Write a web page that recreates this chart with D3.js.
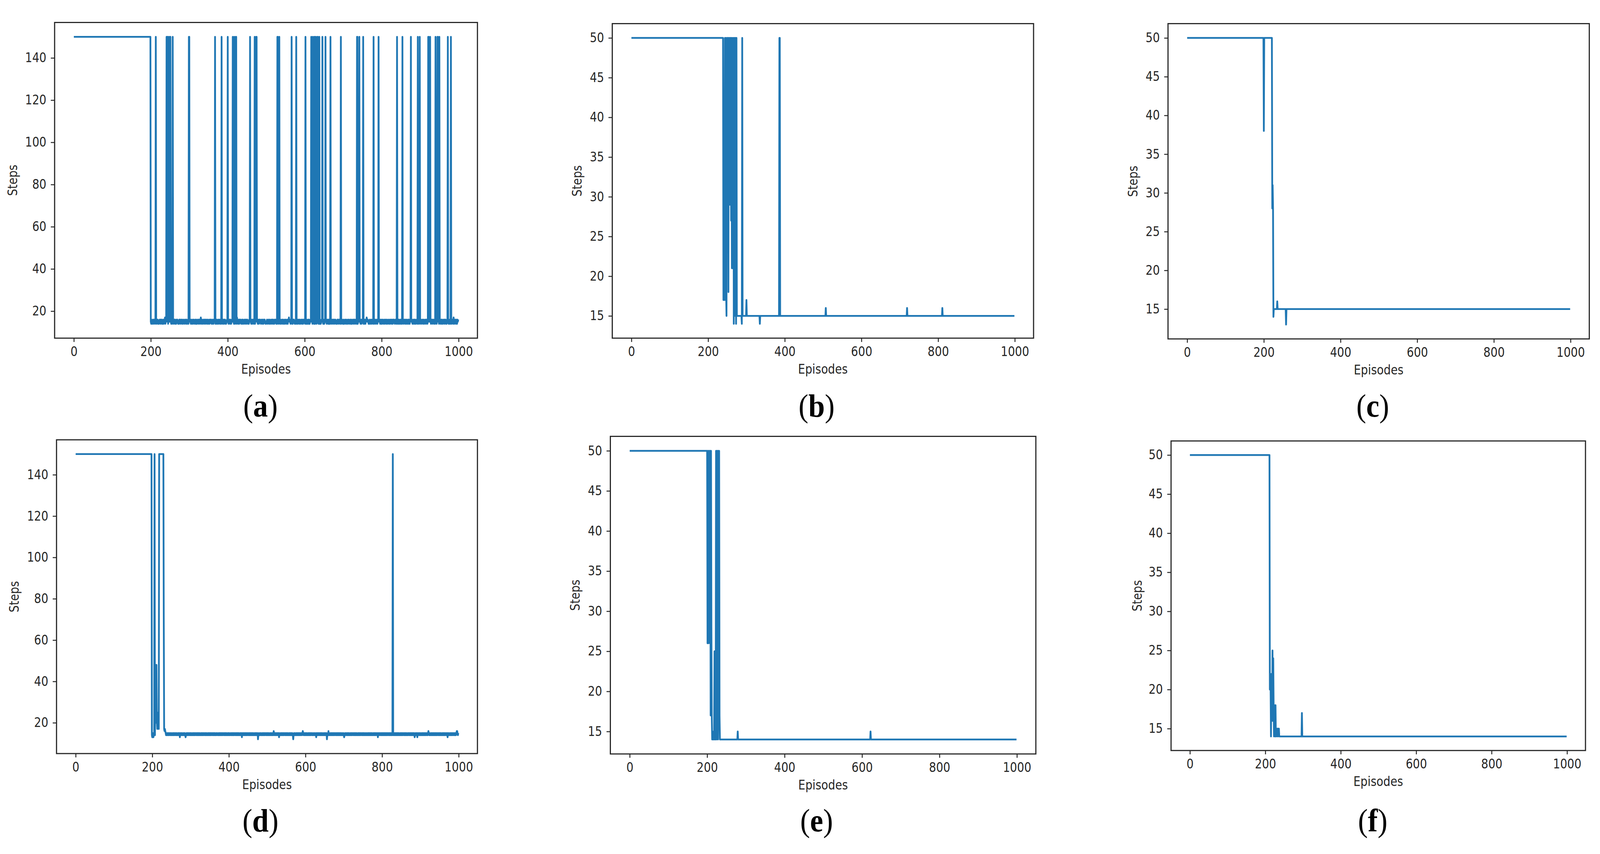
<!DOCTYPE html>
<html>
<head>
<meta charset="utf-8">
<script src="https://cdn.jsdelivr.net/npm/d3@7"></script>
<style>
    html, body { margin: 0; padding: 0; background: #fff; overflow: hidden; }
    svg { display: block; width: 100vw; height: 100vh; }
</style>
</head>
<body>
<svg id="figure" viewBox="0 0 4189 2185" preserveAspectRatio="xMidYMid meet"></svg>
<script>
// ---------------- data ----------------
const EPISODES = 1000;
const panelLetters = ['a', 'b', 'c', 'd', 'e', 'f'];
const xTickLabels = [0, 200, 400, 600, 800, 1000];
const yTicksLarge = [20, 40, 60, 80, 100, 120, 140];
const yTicksSmall = [15, 20, 25, 30, 35, 40, 45, 50];

// change points: [episode, steps] held until the next change point
// (a) 150 until episode 199, then a noisy band (digit = steps - 10) with spikes back to 150
const changesA = [[0, 150]];
const bandStartA = 200;
const bandA = `
5465456456 5456546564 5456546564 5465456745 6545646565 4654564565 4656454656 5454656456 5465456545 6546545645
4565465456 4565456465 4565465645 7546545654 6564565465 4564565645 4654656545 4654564565 4654565465 4656454565
6545654654 5654654564 5654765456 4656545646 5456546564 5654546546 5456456545 6465456546 5465654565 4654656545
4565456546 5456546564 5465654546 5645654654 5654654564 5654564657 5654656454 6565454654 5645654654 5654654656
5456465456 4654565456 4565465465 6454654654 6545654646 5456465456 5464654565 4565465645 6545465645 6546545654
4654565465 4564565456 4654565465 6456546545 6546545645 6564546546 5765654546 5456456546 5456545654 6545654654
6456545645 6546545654 5645654654 6565456546 5456465456 4654565456 5465465456 4654654565 4564564654 5654654656
4565456546 5456546564 5465654546 5645654654 5654654564 5654564654 5654656454 6565454654 5645654754 5654654656`;
const spikesA = [213, 241, 242, 244, 247, 250, 251, 257, 299, 300, 367, 384, 400, 413, 417, 421, 422,
    458, 470, 474, 475, 529, 530, 534, 566, 578, 602, 617, 621, 625, 626, 629, 633, 634, 638, 646,
    654, 667, 694, 736, 737, 742, 752, 779, 792, 840, 854, 876, 894, 899, 921, 922, 926, 940, 945,
    946, 950, 972, 980];

// (b)
const changesB = [[0, 50], [240, 17], [242, 26], [243, 17], [244, 50], [245, 17], [246, 50], [247, 18],
    [248, 15], [249, 50], [250, 23], [251, 50], [253, 18], [254, 50], [255, 29], [256, 50], [257, 29],
    [258, 50], [260, 27], [261, 50], [262, 21], [263, 50], [264, 43], [265, 21], [266, 50], [267, 14],
    [268, 50], [269, 15], [270, 50], [271, 21], [272, 50], [273, 14], [274, 50], [275, 15], [288, 14],
    [289, 50], [290, 15], [300, 17], [301, 15], [335, 14], [336, 15], [386, 50], [388, 15], [507, 16],
    [508, 15], [719, 16], [720, 15], [811, 16], [812, 15]];

// (c)
const changesC = [[0, 50], [200, 38], [201, 50], [222, 28], [223, 31], [224, 28], [225, 14], [226, 15],
    [235, 16], [236, 15], [258, 13], [259, 15]];

// (d) 150, a short chaotic stretch, then a 14/15 band with a single spike at 828
const changesD = [[0, 150], [199, 14], [200, 13], [202, 15], [203, 13], [204, 14], [206, 150], [207, 14],
    [208, 48], [209, 20], [210, 48], [212, 21], [213, 17], [214, 24], [215, 19], [216, 25], [217, 17],
    [218, 150], [230, 71], [231, 17], [232, 16], [233, 17], [234, 16], [235, 15]];
const bandStartD = 236;
const bandD = `
4545454545 5454544545 4545545454 4545454554 5454454545 4545454545 5454545445 4545454554 5454545454 4545454545
5454545445 4545454545 5454545454 4545544545 4545454545 5454545454 4545454455 4545454545 5454545454 5445454545
4545454545 4545545454 5454545454 4545454545 5454455454 4545454545 5454545454 4545454545 4554545454 5454545445
4545454545 5454545454 4545454545 5454545445 4545454545 4545545454 5454545454 4545454545 5454455454 4545454545
5454545454 4545454545 5454545445 4545454545 4554545454 5454545454 4545454545 5454545454 4545454554 5454545454
4545454545 5454545454 4545445454 5454545454 4545454545 5454545455 4545454545 4545454545 5454545454 4544545454
5454545454 4545454545 5454545454 4545545454 5454545454 4545454545 5454544545 4545454545 5454545454 4545454545
4545454545 5454545454 4545454545 5454545454 4545454545 5454545454 4545454545 5454545454 4545454545 5454545454`;
const extremesD = [[272, 13], [287, 13], [434, 13], [476, 12], [531, 13], [568, 12], [628, 13], [656, 12],
    [701, 13], [789, 13], [885, 13], [892, 13], [971, 13], [517, 16], [593, 16], [660, 16], [921, 16],
    [995, 16], [996, 16], [828, 150]];

// (e)
const changesE = [[0, 50], [201, 26], [202, 50], [203, 26], [204, 50], [205, 28], [206, 50], [207, 26],
    [208, 50], [209, 17], [210, 50], [211, 28], [212, 17], [213, 14], [214, 15], [215, 14], [217, 15],
    [218, 14], [219, 25], [220, 14], [221, 15], [222, 14], [223, 50], [224, 14], [225, 50], [226, 15],
    [227, 50], [228, 14], [229, 50], [230, 17], [231, 50], [232, 17], [233, 14], [279, 15], [280, 14],
    [622, 15], [623, 14]];

// (f)
const changesF = [[0, 50], [212, 20], [213, 22], [214, 20], [215, 14], [216, 22], [217, 18], [218, 16],
    [219, 25], [220, 16], [221, 24], [222, 18], [223, 14], [224, 18], [225, 15], [226, 14], [227, 18],
    [228, 14], [229, 15], [231, 14], [232, 15], [234, 14], [235, 15], [237, 14], [297, 17], [298, 14]];

// ---------------- layout (pixels) ----------------
const LAYOUT = {
    a: {x: 143, y: 34, w: 1107, h: 826, capX: 682, capY: 1065, labelGap: 98},
    b: {x: 1603, y: 37, w: 1103, h: 823, capX: 2138, capY: 1065, labelGap: 80},
    c: {x: 3058, y: 37, w: 1103, h: 825, capX: 3594, capY: 1065, labelGap: 80},
    d: {x: 148, y: 1126, w: 1102, h: 821, capX: 682, capY: 2150, labelGap: 99},
    e: {x: 1598, y: 1117, w: 1114, h: 831, capX: 2138, capY: 2150, labelGap: 80},
    f: {x: 3066, y: 1129, w: 1085, h: 810, capX: 3594, capY: 2150, labelGap: 77}
};
const LINE_COLOR = '#1f77b4';
const INK = '#262626';
const SQUASH = 0.86;   // the source plots are slightly compressed horizontally

// expand change points (and an optional digit band) into one value per episode
function buildSeries(changes, band, bandStart, overrides) {
    const digits = band ? band.replace(/\s/g, '') : '';
    const values = [];
    let k = 0;
    for (let ep = 0; ep < EPISODES; ep++) {
        while (k + 1 < changes.length && changes[k + 1][0] <= ep) k++;
        let v = changes[k][1];
        if (band && ep >= bandStart && digits[ep - bandStart] !== undefined) {
            v = 10 + (+digits[ep - bandStart]);
        }
        values.push(v);
    }
    (overrides || []).forEach(([ep, v]) => { values[ep] = v; });
    return values;
}

const SERIES = {
    a: buildSeries(changesA, bandA, bandStartA, spikesA.map(ep => [ep, 150])),
    b: buildSeries(changesB),
    c: buildSeries(changesC),
    d: buildSeries(changesD, bandD, bandStartD, extremesD),
    e: buildSeries(changesE),
    f: buildSeries(changesF)
};
const Y_TICKS = {a: yTicksLarge, b: yTicksSmall, c: yTicksSmall, d: yTicksLarge, e: yTicksSmall, f: yTicksSmall};

class StepsPanel {
    constructor(svg, letter) {
        this.letter = letter;
        this.box = LAYOUT[letter];
        this.values = SERIES[letter];
        this.g = svg.append('g').attr('class', `panel-${letter}`);

        // matplotlib style 5% margins around the data
        const xPad = 0.05 * (EPISODES - 1);
        const [yMin, yMax] = d3.extent(this.values);
        const yPad = 0.05 * (yMax - yMin);

        this.xScale = d3.scaleLinear()
            .domain([-xPad, EPISODES - 1 + xPad])
            .range([this.box.x, this.box.x + this.box.w]);
        this.yScale = d3.scaleLinear()
            .domain([yMin - yPad, yMax + yPad])
            .range([this.box.y + this.box.h, this.box.y]);

        this.drawChart();
    }

    drawChart() {
        this.drawAxis();
        this.drawLine();
        this.drawFrame();
        this.drawLabels();
    }

    styleAxis(sel) {
        sel.select('.domain').remove();
        sel.selectAll('.tick line')
            .attr('stroke', INK)
            .attr('stroke-width', 2.5);
        sel.selectAll('.tick text')
            .attr('fill', INK)
            .style('font-family', '"DejaVu Sans", sans-serif')
            .style('font-size', '34px')
            .attr('transform', `scale(${SQUASH},1)`);
    }

    drawAxis() {
        let xAxis = d3.axisBottom(this.xScale)
            .tickValues(xTickLabels)
            .tickSize(10)
            .tickPadding(13)
            .tickFormat(d3.format('d'));
        this.g.append('g')
            .attr('transform', `translate(0, ${this.box.y + this.box.h})`)
            .call(xAxis)
            .call(s => this.styleAxis(s));

        let yAxis = d3.axisLeft(this.yScale)
            .tickValues(Y_TICKS[this.letter])
            .tickSize(10)
            .tickPadding(15)
            .tickFormat(d3.format('d'));
        this.g.append('g')
            .attr('transform', `translate(${this.box.x}, 0)`)
            .call(yAxis)
            .call(s => this.styleAxis(s));
    }

    drawLine() {
        const line = d3.line()
            .x((d, i) => this.xScale(i))
            .y(d => this.yScale(d));
        this.g.append('path')
            .datum(this.values)
            .attr('d', line)
            .attr('fill', 'none')
            .attr('stroke', LINE_COLOR)
            .attr('stroke-width', 4.6)
            .attr('stroke-linejoin', 'round');
    }

    drawFrame() {
        this.g.append('rect')
            .attr('x', this.box.x)
            .attr('y', this.box.y)
            .attr('width', this.box.w)
            .attr('height', this.box.h)
            .attr('fill', 'none')
            .attr('stroke', INK)
            .attr('stroke-width', 3);
    }

    drawLabels() {
        const b = this.box;
        const font = '"DejaVu Sans", sans-serif';

        this.g.append('text')
            .attr('transform', `translate(${b.x + b.w / 2}, ${b.y + b.h + 93}) scale(${SQUASH},1)`)
            .attr('text-anchor', 'middle')
            .attr('fill', INK)
            .style('font-family', font)
            .style('font-size', '34px')
            .text('Episodes');

        this.g.append('text')
            .attr('transform', `translate(${b.x - b.labelGap}, ${b.y + b.h / 2}) rotate(-90) scale(${SQUASH},1)`)
            .attr('text-anchor', 'middle')
            .attr('fill', INK)
            .style('font-family', font)
            .style('font-size', '34px')
            .text('Steps');

        const cap = this.g.append('text')
            .attr('transform', `translate(${b.capX}, ${b.capY}) scale(0.92,1)`)
            .attr('text-anchor', 'middle')
            .attr('fill', '#000')
            .style('font-family', '"Liberation Serif", "DejaVu Serif", serif')
            .style('font-size', '84px');
        cap.append('tspan').text('(');
        cap.append('tspan').attr('font-weight', 'bold').text(this.letter);
        cap.append('tspan').text(')');
    }
}

const svg = d3.select('#figure');
svg.append('rect').attr('width', 4189).attr('height', 2185).attr('fill', '#fff');
panelLetters.forEach(letter => new StepsPanel(svg, letter));
</script>
</body>
</html>
